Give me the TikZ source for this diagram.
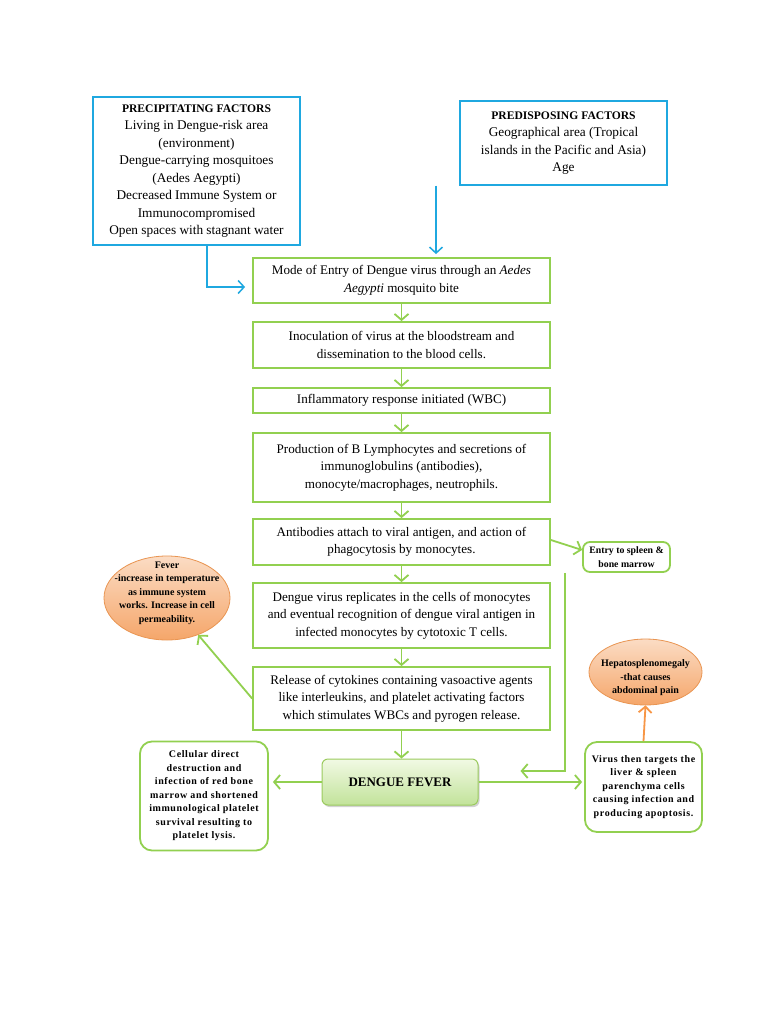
\documentclass[tikz,border=0pt]{standalone}
\usepackage{fontspec}
\setmainfont{Liberation Serif}
\usetikzlibrary{arrows.meta,shapes.geometric,shadows}
\definecolor{gr}{HTML}{92D050}
\definecolor{bl}{HTML}{1FA8E0}
\definecolor{ortop}{HTML}{FBDCC4}
\definecolor{orbot}{HTML}{F5A66A}
\definecolor{orline}{HTML}{E99552}
\definecolor{orarrow}{HTML}{F79646}
\definecolor{dftop}{HTML}{F1F9E4}
\definecolor{dfbot}{HTML}{C2E39A}
\definecolor{dfline}{HTML}{9BCB5E}
\tikzset{
  gbox/.style={draw=gr, line width=1.8pt, fill=white, align=center, inner sep=0pt, minimum width=297pt, font=\fontsize{13.1}{17.5}\selectfont},
  bbox/.style={draw=bl, line width=1.5pt, fill=white, align=center, inner sep=0pt, minimum width=207pt, font=\fontsize{13.3}{17.5}\selectfont},
  rbox/.style={draw=gr, line width=1.8pt, fill=white, align=center, inner sep=0pt, rounded corners=12pt, font=\fontsize{10}{13.5}\selectfont\bfseries\addfontfeature{LetterSpace=6}},
  oval/.style={ellipse, draw=orline, line width=0.8pt, top color=ortop, bottom color=orbot, inner sep=0pt},
  ovaltext/.style={align=center, inner sep=0pt, font=\fontsize{10}{13.5}\selectfont\bfseries},
  garrow/.style={draw=gr, line width=1.8pt, -{Straight Barb[length=6pt,width=14pt]}},
  barrow/.style={draw=bl, line width=1.5pt, -{Straight Barb[length=6pt,width=13pt]}},
  oarrow/.style={draw=orarrow, line width=1.8pt, -{Straight Barb[length=6pt,width=13pt]}}
}
\newcommand{\ttl}[1]{{\fontsize{11.6}{17.5}\selectfont\bfseries #1}}
\begin{document}
\begin{tikzpicture}[x=1pt,y=-1pt]
\useasboundingbox[fill=white] (0,0) rectangle (768,1024);

\node[bbox, minimum height=148pt] (prec) at (196.5,171) {\ttl{PRECIPITATING FACTORS}\\Living in Dengue-risk area\\(environment)\\Dengue-carrying mosquitoes\\(Aedes Aegypti)\\Decreased Immune System or\\Immunocompromised\\Open spaces with stagnant water};
\node[bbox, minimum height=84pt] (pred) at (563.5,143) {\ttl{PREDISPOSING FACTORS}\\Geographical area (Tropical\\islands in the Pacific and Asia)\\Age};

\node[gbox, minimum height=45pt] (mode) at (401.5,280.5) {Mode of Entry of Dengue virus through an \textit{Aedes}\\\textit{Aegypti} mosquito bite};
\node[gbox, minimum height=46pt] (inoc) at (401.5,345) {Inoculation of virus at the bloodstream and\\dissemination to the blood cells.};
\node[gbox, minimum height=25pt] (infl) at (401.5,400.5) {Inflammatory response initiated (WBC)};
\node[gbox, minimum height=69pt] (prod) at (401.5,467.5) {Production of B Lymphocytes and secretions of\\immunoglobulins (antibodies),\\monocyte/macrophages, neutrophils.};
\node[gbox, minimum height=46pt] (anti) at (401.5,542) {Antibodies attach to viral antigen, and action of\\phagocytosis by monocytes.};
\node[gbox, minimum height=65pt] (repl) at (401.5,615.5) {Dengue virus replicates in the cells of monocytes\\and eventual recognition of dengue viral antigen in\\infected monocytes by cytotoxic T cells.};
\node[gbox, minimum height=63pt] (rel) at (401.5,698.5) {Release of cytokines containing vasoactive agents\\like interleukins, and platelet activating factors\\which stimulates WBCs and pyrogen release.};

\node[draw=dfline, line width=1pt, rounded corners=6pt, top color=dftop, bottom color=dfbot, drop shadow={shadow xshift=1.5pt, shadow yshift=-2pt, opacity=0.35}, minimum width=156pt, minimum height=46pt, inner sep=0pt, font=\fontsize{13}{16}\selectfont\bfseries] (df) at (400,782) {DENGUE FEVER};

\node[rbox, minimum width=128pt, minimum height=109pt] (cell) at (204,796) {Cellular direct\\destruction and\\infection of red bone\\marrow and shortened\\immunological platelet\\survival resulting to\\platelet lysis.};
\node[rbox, minimum width=117pt, minimum height=90pt] (virus) at (643.5,787) {Virus then targets the\\liver \& spleen\\parenchyma cells\\causing infection and\\producing apoptosis.};
\node[rbox, rounded corners=7pt, minimum width=87pt, minimum height=30pt, font=\fontsize{9.8}{14}\selectfont\bfseries] (entry) at (626.5,557) {Entry to spleen \&\\bone marrow};

\node[oval, minimum width=126pt, minimum height=84pt] (fever) at (167,598) {};
\node[ovaltext] (fevert) at (167,593) {Fever\\-increase in temperature\\as immune system\\works. Increase in cell\\permeability.};
\node[oval, minimum width=113pt, minimum height=66pt] (hep) at (645.5,672) {};
\node[ovaltext] (hept) at (645.5,678) {Hepatosplenomegaly\\-that causes\\abdominal pain};

% connectors
\draw[barrow] ([xshift=10.5pt]prec.south) |- ([xshift=-7pt,yshift=-6.5pt]mode.west);
\draw[barrow] ([xshift=-127.5pt]pred.south) -- ([xshift=34.5pt,yshift=3pt]mode.north);
\foreach \a/\b in {mode/inoc, inoc/infl, infl/prod, prod/anti, anti/repl, repl/rel}
  \draw[garrow] (\a.south) -- (\b.north);
\draw[garrow] (rel.south) -- (rel.south |- df.north);
\draw[garrow] ([yshift=2pt]anti.east) -- ([yshift=7pt]entry.west);
\draw[garrow] ([xshift=-61.5pt]entry.south) |- ([xshift=42pt,yshift=11pt]df.east);
\draw[garrow, shorten >=4pt] (df.west) -- (cell.east |- df.west);
\draw[garrow, shorten >=2pt] (df.east) -- (virus.west |- df.east);
\draw[garrow] (rel.west) -- (fever);
\draw[oarrow] (virus.north) -- (hep.south);
\end{tikzpicture}
\end{document}
